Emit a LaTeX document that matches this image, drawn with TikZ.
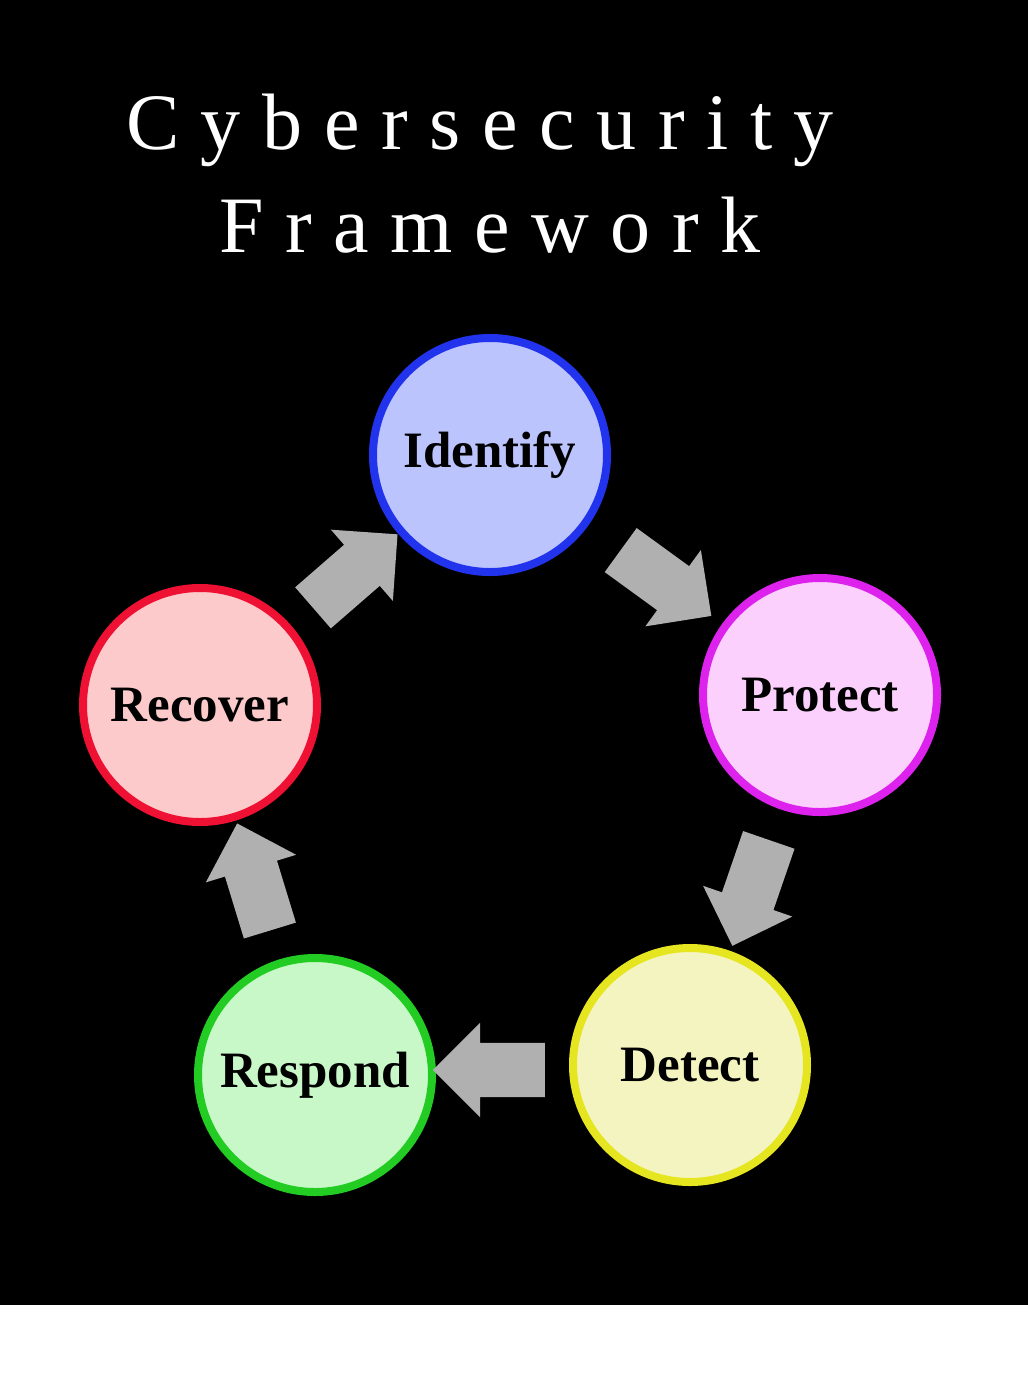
\documentclass[tikz,border=0pt]{standalone}
\usepackage{fontspec}
\setmainfont{Liberation Serif}
\newfontfamily\titlefont[LetterSpace=27]{Liberation Serif}
\usetikzlibrary{shapes.arrows,calc}
\definecolor{idF}{HTML}{BCC4FE}\definecolor{idB}{HTML}{2233EE}
\definecolor{prF}{HTML}{FCD0FC}\definecolor{prB}{HTML}{DD22EE}
\definecolor{deF}{HTML}{F4F4C0}\definecolor{deB}{HTML}{E6E620}
\definecolor{reF}{HTML}{C8F8C8}\definecolor{reB}{HTML}{22CC22}
\definecolor{rcF}{HTML}{FCCACA}\definecolor{rcB}{HTML}{EE1133}
\definecolor{arr}{HTML}{B0B0B0}
\tikzset{
 stage/.style={circle,line width=8pt,minimum size=234pt,inner sep=0pt,font=\fontsize{51}{54}\selectfont\bfseries,text=black},
 blockarrow/.style={single arrow,fill=arr,draw=none,minimum height=112pt,inner xsep=0pt,inner ysep=27pt,single arrow head extend=20pt,anchor=center}
}
\begin{document}
\begin{tikzpicture}[x=1pt,y=-1pt]
\fill[black] (0,0) rectangle (1028,1390);
\fill[white] (0,1305) rectangle (1028,1390);
\useasboundingbox (0,0) rectangle (1028,1390);
\node[text=white,font=\titlefont\fontsize{80}{82}\selectfont] (t1) at (480,130) {Cybersecurity};
\node[text=white,font=\titlefont\fontsize{80}{82}\selectfont] (t2) at (490,225) {Framework};
\node[stage,fill=idF,draw=idB] (id) at (490,455) {Identify};
\node[stage,fill=prF,draw=prB] (pr) at (820,695) {Protect};
\node[stage,fill=deF,draw=deB] (de) at (690,1065) {Detect};
\node[stage,fill=reF,draw=reB] (re) at (315,1075) {Respond};
\node[stage,fill=rcF,draw=rcB] (rc) at (200,705) {Recover};
\node[blockarrow,rotate=-36] (a1) at ($(id)!0.5!(pr)$) {};
\node[blockarrow,rotate=-109] (a2) at ($(pr)!0.5!(de)$) {};
\node[blockarrow,rotate=180] (a3) at ($(de)!0.5!(re)$) {};
\node[blockarrow,rotate=107] (a4) at ($(re)!0.5!(rc)$) {};
\node[blockarrow,rotate=41] (a5) at ($(rc)!0.5!(id)$) {};
\end{tikzpicture}
\end{document}
